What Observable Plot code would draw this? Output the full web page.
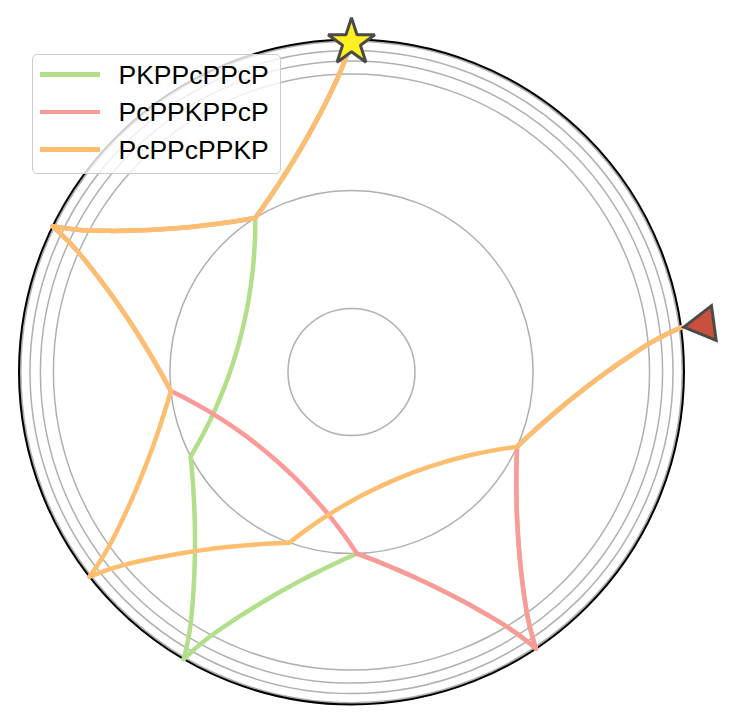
<!DOCTYPE html>
<html>
<head>
<meta charset="utf-8">
<script src="https://cdn.jsdelivr.net/npm/d3@7"></script>
<script src="https://cdn.jsdelivr.net/npm/@observablehq/plot@0.6"></script>
<style>
html, body { margin: 0; padding: 0; background: #fff; }
#wrap { position: relative; width: 736px; height: 724px; overflow: hidden; }
#wrap svg { display: block; }
#legend { position: absolute; left: 32px; top: 54px; width: 247px; height: 118px;
  border: 1.5px solid #cccccc; border-radius: 5px; background: rgba(255,255,255,0.8);
  font-family: "Liberation Sans", Arial, sans-serif; font-size: 26.5px; color: #000; }
.item { position: absolute; left: 0; height: 0; }
.swatch { position: absolute; left: 6.5px; width: 60px; height: 4.6px; margin-top: -2.3px; }
.label { position: absolute; left: 85.5px; top: 0; transform: translateY(-50%); line-height: 1; white-space: nowrap; }
</style>
</head>
<body>
<div id="wrap"></div>
<script>
// ---- data ----
const phases = ["PKPPcPPcP", "PcPPKPPcP", "PcPPcPPKP"];
const phaseColors = ["#b2df8a", "#fb9a99", "#fdbf6f"];
// leg sequence of each ray: D = mantle P going down, U = mantle P going up, K = outer-core leg
const legSequences = [
  ["D", "K", "U", "D", "U", "D", "U"],
  ["D", "U", "D", "K", "U", "D", "U"],
  ["D", "U", "D", "U", "D", "K", "U"]
];
const earthRadius = 6371;
const discontinuities = [6351, 6336, 6161, 5961, 5711, 3480, 1217];
// mantle P leg, surface -> CMB: angular offset (deg) and radius (km)
const mantleOffset = [0, 0.6, 1.28, 2.34, 4.23, 5.9, 7.87, 10.2, 13.03, 16.5, 20.99, 23.18, 25.57, 28.56, 30.51, 32.0];
const mantleRadius = [6371, 6161, 5961, 5711, 5371, 5121, 4871, 4621, 4371, 4121, 3871, 3771, 3676, 3576, 3520, 3480];
// outer-core K leg, CMB -> CMB
const coreOffset = [0, 3.19, 5.85, 8.9, 12.41, 16.42, 20.9, 25.87, 31.26, 36.97, 42.85,
  48.73, 54.44, 59.83, 64.8, 69.28, 73.29, 76.8, 79.85, 82.51, 85.7];
const coreRadius = [3480, 3206, 3027, 2860, 2707, 2570, 2452, 2356, 2285, 2241, 2226,
  2241, 2285, 2356, 2452, 2570, 2707, 2860, 3027, 3206, 3480];
const sourceDistance = 0;
const sourceDepth = 55;

// ---- layout ----
const W = 736, H = 724, cx = 351, cy = 371.5, Rpx = 332.5;
const ppk = Rpx / earthRadius;

// distance grows counterclockwise from the top
const toXY = (dist, r) => { const a = -dist * Math.PI / 180; return [r * Math.sin(a), r * Math.cos(a)]; };

const rayPoints = [];
let receiverDistance = 0;
phases.forEach((ph, k) => {
  let start = sourceDistance;
  legSequences[k].forEach((leg, i) => {
    let offs, rads;
    if (leg === "K") { offs = coreOffset; rads = coreRadius; }
    else if (leg === "D") { offs = mantleOffset; rads = mantleRadius; }
    else {
      const span = mantleOffset[mantleOffset.length - 1];
      offs = mantleOffset.map(o => span - o).reverse();
      rads = [...mantleRadius].reverse();
    }
    offs.forEach((o, j) => {
      const [x, y] = toXY(start + o, rads[j]);
      rayPoints.push({phase: ph, leg: ph + "-" + i, x, y});
    });
    start += offs[offs.length - 1];
  });
  receiverDistance = start;
});

const [sx, sy] = toXY(sourceDistance, earthRadius - sourceDepth);
const [rx, ry] = toXY(receiverDistance, earthRadius);
const recA = -receiverDistance * Math.PI / 180;
const markerOffset = 23;
const recRotate = -receiverDistance + 180;

const plot = Plot.plot({
  width: W, height: H, margin: 0,
  x: {domain: [-cx / ppk, (W - cx) / ppk], axis: null},
  y: {domain: [-(H - cy) / ppk, cy / ppk], axis: null},
  r: {type: "linear", domain: [0, earthRadius], range: [0, Rpx]},
  color: {domain: phases, range: phaseColors},
  style: {background: "white", overflow: "visible"},
  marks: [
    Plot.dot(discontinuities, {x: 0, y: 0, r: d => d, stroke: "#b0b0b0", strokeWidth: 1.5, fill: "none"}),
    Plot.dot([earthRadius], {x: 0, y: 0, r: d => d, stroke: "#000", strokeWidth: 2, fill: "none"}),
    Plot.line(rayPoints, {x: "x", y: "y", z: "leg", stroke: "phase", strokeWidth: 4.5, curve: "catmull-rom"}),
    Plot.dot([{x: sx, y: sy}], {x: "x", y: "y", symbol: "star", r: 14.7, fill: "#fff01f",
      stroke: "#4a4a4a", strokeWidth: 3, strokeLinejoin: "bevel"}),
    Plot.dot([{x: rx, y: ry}], {x: "x", y: "y", symbol: "triangle", r: 13, rotate: recRotate,
      dx: markerOffset * Math.sin(recA), dy: -markerOffset * Math.cos(recA),
      fill: "#c9503c", stroke: "#4a4a4a", strokeWidth: 3, strokeLinejoin: "miter"})
  ]
});

const wrap = document.getElementById("wrap");
wrap.appendChild(plot);

// legend
const legend = document.createElement("div");
legend.id = "legend";
phases.forEach((ph, i) => {
  const item = document.createElement("div");
  item.className = "item";
  item.style.top = (19.5 + i * 37.5) + "px";
  const sw = document.createElement("div");
  sw.className = "swatch";
  sw.style.background = phaseColors[i];
  const lb = document.createElement("div");
  lb.className = "label";
  lb.textContent = ph;
  item.appendChild(sw);
  item.appendChild(lb);
  legend.appendChild(item);
});
wrap.appendChild(legend);
</script>
</body>
</html>
